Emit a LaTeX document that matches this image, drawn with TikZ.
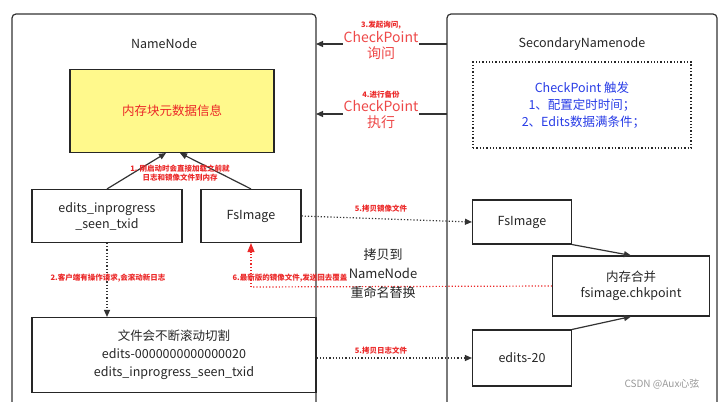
\documentclass[tikz,border=0pt]{standalone}
\usepackage{fontspec}
\setmainfont{Noto Sans CJK SC}
\usetikzlibrary{arrows.meta}
\definecolor{tagred}{RGB}{235,40,40}
\definecolor{trigblue}{RGB}{40,60,230}
\tikzset{
  frame/.style={draw=black!80, line width=1.2pt, rounded corners=4pt},
  box/.style={
    rectangle,
    draw=black!85,
    line width=1.1pt,
    align=center,
    font=\fontsize{12.5}{16}\selectfont,
    text=black!85
    },
  tag/.style={font=\fontsize{7.5}{9.5}\selectfont\bfseries, text=tagred, align=center, inner sep=1pt},
  arrow/.style={line width=1.2pt,-{Triangle[length=7pt,width=6pt]}, draw=black!80},
  dotarrow/.style={line width=1.2pt, dotted, -{Triangle[length=7pt,width=6pt]}, draw=black!80},
  ask/.style={font=\fontsize{14}{16}\selectfont, text=tagred!85, align=center, fill=white, inner sep=1pt}
}
\begin{document}
\begin{tikzpicture}[x=1pt,y=-1pt]
\useasboundingbox (0,0) rectangle (724,402);
% the two daemons
\draw[frame] (12,420) -- (12,14) -- (316,14) -- (316,420);
\draw[frame] (447,420) -- (447,14) -- (717,14) -- (717,420);
\node (nn) at (164,44) [font=\fontsize{12.5}{15}\selectfont, text=black!85] {NameNode};
\node (snn) at (582,44) [font=\fontsize{12.5}{15}\selectfont, text=black!85] {SecondaryNamenode};
% NameNode side
\node (mem) at (172,111) [box, fill=yellow!45, minimum width=204pt, minimum height=83pt, text=tagred] {内存块元数据信息};
\node (inprog) at (107,216) [box, minimum width=150pt, minimum height=53pt] {edits\_inprogress\\\_seen\_txid};
\node (fsimg) at (251,216) [box, minimum width=100pt, minimum height=53pt] {FsImage};
\node (roll) at (174,355) [box, minimum width=284pt, minimum height=75pt, font=\fontsize{12.5}{18}\selectfont] {文件会不断滚动切割\\edits-0000000000000020\\edits\_inprogress\_seen\_txid};
% SecondaryNamenode side
\node (trig) at (582,105) [draw=black!85, line width=1.3pt, dotted, minimum width=218pt, minimum height=86pt,
  align=center, text=trigblue, font=\fontsize{12.5}{17}\selectfont] {CheckPoint 触发\\1、配置定时时间；\\\ 2、Edits数据满条件；};
\node (fsimg2) at (522,222) [box, minimum width=99pt, minimum height=44pt] {FsImage};
\node (merge) at (631,286) [box, minimum width=157pt, minimum height=60pt] {内存合并\\fsimage.chkpoint};
\node (edits20) at (522,358) [box, minimum width=99pt, minimum height=56pt] {edits-20};
\coordinate (askR) at (447,44);
\coordinate (askL) at (316,44);
\coordinate (runR) at (447,114);
\coordinate (runL) at (316,114);
\coordinate (back) at (251,287);
% connectors
\draw[arrow] (inprog.north) -- (166,153);
\draw[arrow] (fsimg.north) -- (180,153);
\draw[dotarrow] (inprog.south) -- (inprog.south |- roll.north);
\draw[dotarrow] (fsimg.east) -- (fsimg2.west);
\draw[dotarrow] (roll.east |- edits20) -- (edits20.west);
\draw[arrow] (fsimg2.south east) -- (merge.north);
\draw[arrow] (edits20.north east) -- (merge.south);
\draw[arrow] (askR) -- (askL);
\draw[arrow] (runR) -- (runL);
\draw[line width=1.2pt, dotted, draw=tagred] (merge.west) -- (back);
\draw[line width=1.2pt, dotted, draw=tagred, -{Triangle[length=9pt,width=7pt]}] (back) -- (fsimg.south);
% labels
\node (ask) at (381,45) [ask] {CheckPoint\\询问};
\node (run) at (381,115) [ask] {CheckPoint\\执行};
\node[tag] at (381,25) {3.发起询问,};
\node[tag] at (381,95) {4.进行备份};
\node[tag] at (180,173) {1. 刚启动时会直接加载之前就\\日志和镜像文件到内存};
\node[tag] at (108,278) {2.客户端有操作请求,会滚动新日志};
\node[tag] at (290,278) {6.最新版的镜像文件,发送回去覆盖};
\node[tag] at (381,209) {5.拷贝镜像文件};
\node[tag] at (381,351) {5.拷贝日志文件};
\node (copy) at (383,274) [align=center, font=\fontsize{13}{19}\selectfont, text=black!85] {拷贝到\\NameNode\\重命名替换};
\node at (662,384) [font=\fontsize{10}{11}\selectfont, text=black!40] {CSDN @Aux心弦};
\end{tikzpicture}
\end{document}
